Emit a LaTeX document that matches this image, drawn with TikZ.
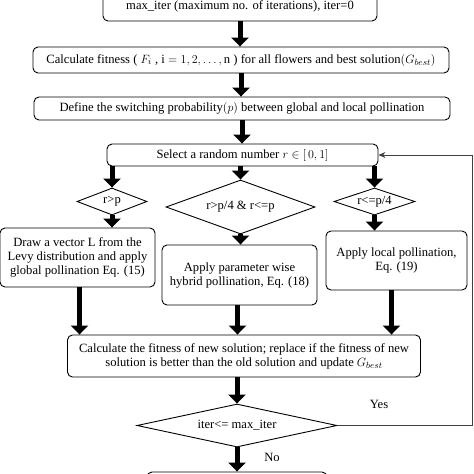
\documentclass[tikz,border=0pt]{standalone}
\usepackage{fontspec}
\setmainfont{Liberation Serif}
\usetikzlibrary{arrows.meta,shapes.geometric}

\begin{document}
\begin{tikzpicture}[x=1pt, y=-1pt]
    \tikzset{flow box/.style={draw, rounded corners=5pt, line width=0.9pt,
            align=center, inner sep=0pt,
            font=\fontsize{12.6}{14}\selectfont},
        flow dec/.style={draw, diamond, line width=0.9pt, inner sep=0pt,
            aspect=2.6, font=\fontsize{12.6}{14}\selectfont},
        thick arrow/.style={line width=5pt,
            -{Triangle[width=17pt,length=9pt]}},
        loop line/.style={line width=0.8pt, black!75,
            -{Stealth[length=7pt,width=6pt]}}}
    \useasboundingbox (0,0) rectangle (474,474);
    \clip (0,0) rectangle (474,474);
    % boxes
    \node[flow box, minimum width=274pt, minimum height=44pt] (init) at (240,-1)
        {Initialize: random population of n flowers,\\
         max\_iter (maximum no. of iterations), iter=0};
    \node[flow box, minimum width=416pt, minimum height=26pt] (fit) at (241,60)
        {Calculate fitness ( $F_i$ , $\mathrm{i}=1,2,\ldots,\mathrm{n}$ ) for all flowers and best solution$\left(G_{best}\right)$};
    \node[flow box, minimum width=416pt, minimum height=23pt] (switch) at (242,108.5)
        {Define the switching probability$\left(p\right)$ between global and local pollination};
    \node[flow box, minimum width=271pt, minimum height=22pt] (select) at (242.5,155)
        {Select a random number $r\in[\,0,1]$};
    % decisions
    \node[flow dec, minimum width=70pt, minimum height=27pt] (d1) at (112,201.5) {r>p};
    \node[flow dec, minimum width=149pt, minimum height=54pt] (d2) at (240.5,207) {r>p/4 \& r<=p};
    \node[flow dec, minimum width=81pt, minimum height=27pt] (d3) at (374.5,201.5) {r<=p/4};
    \node[flow box, minimum width=155pt, minimum height=59pt] (global) at (77.5,257.5)
        {Draw a vector L from the\\ Levy distribution and apply\\ global pollination Eq. (15)};
    \node[flow box, minimum width=155pt, minimum height=60pt] (hybrid) at (239.5,275)
        {Apply parameter wise\\ hybrid pollination, Eq. (18)};
    \node[flow box, minimum width=141pt, minimum height=59pt] (local) at (396.5,260.5)
        {Apply local pollination,\\ Eq. (19)};
    \node[flow box, minimum width=353pt, minimum height=42pt] (update) at (244,356)
        {Calculate the fitness of new solution; replace if the fitness of new\\
         solution is better than the old solution and update $G_{best}$};
    \node[flow dec, minimum width=200pt, minimum height=43pt] (check) at (237,425.5) {iter<= max\_iter};
    \node[flow box, minimum width=180pt, minimum height=26pt] (stop) at (237,485) {};
    \node[font=\fontsize{12.6}{14}\selectfont] (yes) at (379,404) {Yes};
    \node[font=\fontsize{12.6}{14}\selectfont] (no) at (272,457) {No};
    % arrows
    \draw[thick arrow] (init.south) -- (init.south |- fit.north);
    \draw[thick arrow] (fit.south) -- (fit.south |- switch.north);
    \draw[thick arrow] (switch.south) -- (switch.south |- select.north);
    \draw[thick arrow] (select.south -| d1.north) -- (d1.north);
    \draw[thick arrow] (select.south -| d2.north) -- (d2.north);
    \draw[thick arrow] (select.south -| d3.north) -- (d3.north);
    \draw[thick arrow] (d1.south) -- (d1.south |- global.north);
    \draw[thick arrow] (d2.south) -- (d2.south |- hybrid.north);
    \draw[thick arrow] (d3.south) -- (d3.south |- local.north);
    \draw[thick arrow] ([xshift=2pt]global.south) -- ([xshift=2pt]global.south |- update.north);
    \draw[thick arrow] ([xshift=-2pt]hybrid.south) -- ([xshift=-2pt]hybrid.south |- update.north);
    \draw[thick arrow] ([xshift=-5pt]local.south) -- ([xshift=-5pt]local.south |- update.north);
    \draw[thick arrow] (check.north |- update.south) -- (check.north);
    \draw[thick arrow] (check.south) -- (check.south |- stop.north);
    % loop back
    \coordinate (back) at (472.5,0);
    \draw[loop line] (check.east) -- (check.east -| back) |- (select.east);
\end{tikzpicture}
\end{document}
